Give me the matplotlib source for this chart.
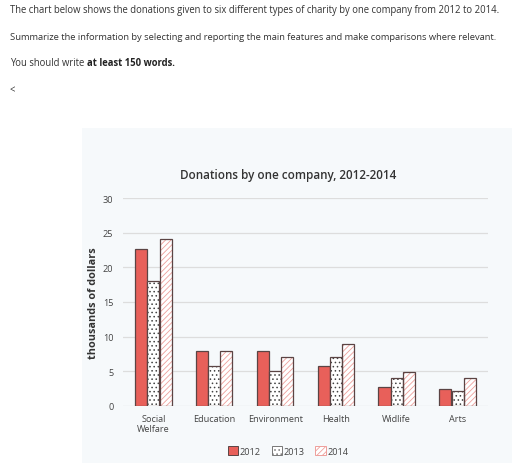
import matplotlib
matplotlib.use("Agg")
import matplotlib.pyplot as plt
import matplotlib.patches as mpatches
import numpy as np

categories = ["Social\nWelfare", "Education", "Environment", "Health", "Widlife", "Arts"]
years = ["2012", "2013", "2014"]
v2012 = [22.7, 8.0, 8.0, 5.8, 2.8, 2.4]
v2013 = [18.0, 5.8, 5.0, 7.0, 4.0, 2.2]
v2014 = [24.1, 8.0, 7.0, 9.0, 4.9, 4.0]
yticks = [0, 5, 10, 15, 20, 25, 30]

W, H = 512, 464
fig = plt.figure(figsize=(W / 100, H / 100), dpi=100)
fig.patch.set_facecolor("white")

plt.rcParams["font.family"] = ["Open Sans", "DejaVu Sans"]
plt.rcParams["hatch.linewidth"] = 0.6

# light panel behind chart
panel = mpatches.Rectangle((82 / W, 0), 1 - 82 / W, (464 - 129) / H, transform=fig.transFigure,
                           facecolor="#f6f9fb", edgecolor="none", zorder=-5)
fig.patches.append(panel)

# header text
txtc = "#333333"
fs_h = 6.9
l1 = fig.text(10 / W, 1 - 10 / H, "The chart below shows the donations given to six different types of charity by one company from 2012 to 2014.",
              fontsize=fs_h, color=txtc, va="center", ha="left")
l2 = fig.text(10 / W, 1 - 37 / H, "Summarize the information by selecting and reporting the main features and make comparisons where relevant.",
              fontsize=fs_h, color=txtc, va="center", ha="left")
fig.canvas.draw()
for ln, target in ((l1, 496), (l2, 495)):
    w = ln.get_window_extent().width
    ln.set_fontsize(fs_h * target / w)
t = fig.text(10 / W, 1 - 64 / H, "You should write ", fontsize=l1.get_fontsize(), color=txtc, va="center", ha="left")
fig.canvas.draw()
bb = t.get_window_extent()
fig.text(bb.x1 / W, 1 - 64 / H, "at least 150 words.", fontsize=l1.get_fontsize(), color="#222222", fontweight="bold",
         va="center", ha="left")
fig.text(10 / W, 1 - 91 / H, "<", fontsize=l1.get_fontsize(), color=txtc, va="center", ha="left")

ax = fig.add_axes([123 / W, 57 / H, (488 - 123) / W, (407 - 199) / H])
ax.set_facecolor("none")
x = np.arange(len(categories))
bw = 0.2
edge = "#5b4444"
red = "#e8605a"
pink = "#ee9f9b"

ax.bar(x - bw, v2012, bw, color=red, edgecolor=edge, linewidth=0.9, zorder=3)
ax.bar(x, v2013, bw, color="white", edgecolor="#444444", hatch="....", linewidth=0, zorder=3)
ax.bar(x, v2013, bw, fill=False, edgecolor=edge, linewidth=0.9, zorder=4)
ax.bar(x + bw, v2014, bw, color="white", edgecolor=pink, hatch="//////", linewidth=0, zorder=3)
ax.bar(x + bw, v2014, bw, fill=False, edgecolor=edge, linewidth=0.9, zorder=4)

ax.set_ylim(0, 30)
ax.set_xlim(-0.5, len(categories) - 0.5)
ax.set_yticks(yticks)
ax.set_yticklabels([str(v) for v in yticks], fontsize=6.6, color="#444444")
ax.set_xticks(x)
ax.set_xticklabels(categories, fontsize=6.6, color="#444444", linespacing=1.1)
ax.tick_params(length=0, pad=7)
ax.tick_params(axis="x", pad=6)
for s in ax.spines.values():
    s.set_visible(False)
ax.grid(axis="y", color="#dddddd", linewidth=0.9, zorder=0)
ax.set_axisbelow(True)
ax.set_ylabel("thousands of dollars", fontsize=7.8, color="#333333", fontweight="bold", labelpad=3)

fig.text(288 / W, 1 - 176 / H, "Donations by one company, 2012-2014", fontsize=8.4, color="#333333",
         ha="center", va="center", fontweight="semibold")

h1 = mpatches.Patch(facecolor=red, edgecolor=edge, linewidth=0.7)
h2 = mpatches.Patch(facecolor="white", edgecolor="#777777", hatch="....", linewidth=0.7)
h3 = mpatches.Patch(facecolor="white", edgecolor=pink, hatch="//////", linewidth=0.7)
fig.legend([h1, h2, h3], years, loc="center", bbox_to_anchor=(288 / W, 1 - 452 / H), ncol=3,
           frameon=False, fontsize=6.6, handlelength=1.1, handleheight=1.1, handletextpad=0.2,
           columnspacing=1.2, labelcolor="#444444")

fig.savefig("out.png", dpi=100)
